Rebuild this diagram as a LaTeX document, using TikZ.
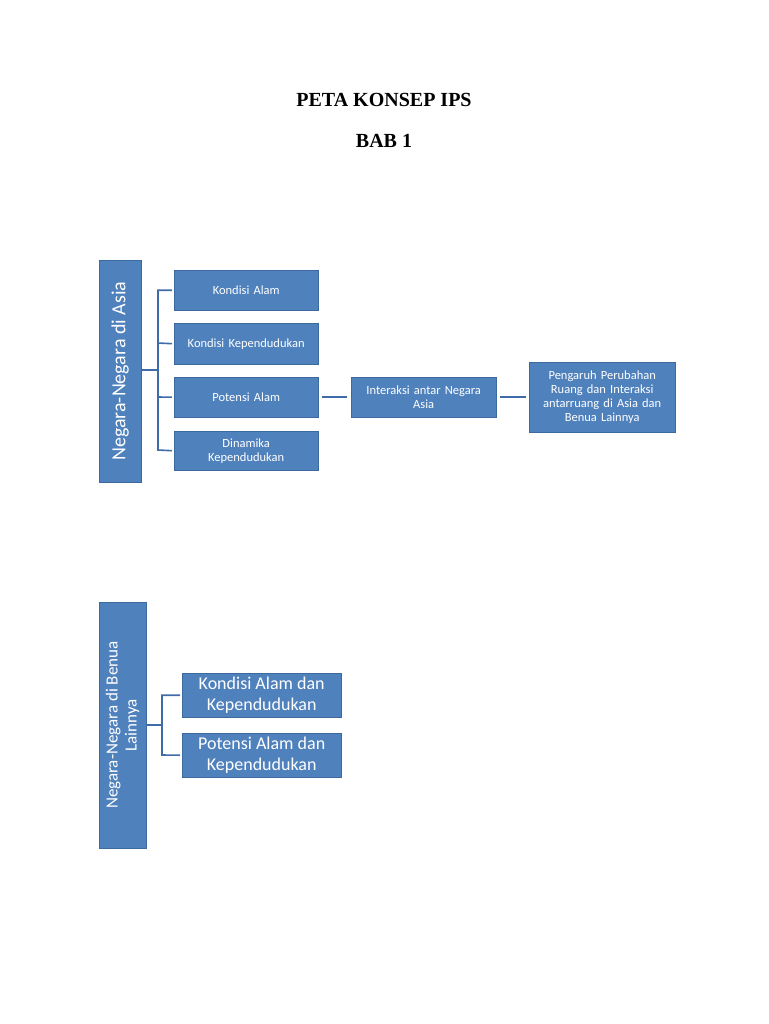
\documentclass[tikz,border=0pt]{standalone}
\usepackage{fontspec}
\setmainfont{Liberation Serif}
\newfontfamily\calfnt{Carlito}
\definecolor{boxfill}{HTML}{4F81BD}
\definecolor{boxline}{HTML}{3C6A9E}
\definecolor{conn}{HTML}{3F6CA8}
\begin{document}
\begin{tikzpicture}[x=1pt,y=-1pt,
  bx/.style={draw=boxline,fill=boxfill,text=white,align=center,inner sep=1pt,font=\calfnt},
  ln/.style={draw=conn,line width=1.6pt}]
\useasboundingbox (0,0) rectangle (768,1024);
\node[font=\bfseries\fontsize{20}{24}\selectfont] (t1) at (384,100) {PETA KONSEP IPS};
\node[font=\bfseries\fontsize{20}{24}\selectfont] (t2) at (384,141) {BAB 1};
% section 1
\node[bx,minimum width=42pt,minimum height=222pt,anchor=north west] (asia) at (99,260) {};
\node[text=white,font=\calfnt\fontsize{20}{24}\selectfont,rotate=90] (asiat) at (asia.center) {Negara-Negara di Asia};
\tikzset{s1/.style={bx,minimum width=144pt,text width=142pt,font=\calfnt\fontsize{12.5}{14}\selectfont,anchor=north west}}
\node[s1,minimum height=40pt] (a1) at (174,270) {Kondisi Alam};
\node[s1,minimum height=41pt] (a2) at (174,323) {Kondisi Kependudukan};
\node[s1,minimum height=40pt] (a3) at (174,377) {Potensi Alam};
\node[s1,minimum height=39pt] (a4) at (174,431) {Dinamika\\Kependudukan};
\node[s1,minimum height=40pt,minimum width=145pt] (a5) at (351,377) {Interaksi antar Negara\\Asia};
\node[s1,minimum height=70pt,minimum width=146pt] (a6) at (529,362) {Pengaruh Perubahan\\Ruang dan Interaksi\\antarruang di Asia dan\\Benua Lainnya};
\coordinate (b1) at (158,370);
\draw[ln] (asia.east |- b1) -- (b1);
\draw[ln] ([xshift=-2pt]a1.west) -| (158,450) -- ([xshift=-2pt]a4.west);
\draw[ln] (158,343) -- ([xshift=-2pt]a2.west);
\draw[ln] (158,397) -- ([xshift=-2pt]a3.west);
\draw[ln] ([xshift=4pt]a3.east) -- ([xshift=-4pt]a5.west);
\draw[ln] ([xshift=4pt]a5.east) -- ([xshift=-3pt]a6.west);
% section 2
\node[bx,minimum width=47pt,minimum height=246pt,anchor=north west] (benua) at (99,602) {};
\node[text=white,align=center,font=\calfnt\fontsize{17}{19}\selectfont,rotate=90] (benuat) at (benua.center) {Negara-Negara di Benua\\Lainnya};
\tikzset{s2/.style={bx,minimum width=159pt,minimum height=44pt,font=\calfnt\fontsize{18}{21}\selectfont,anchor=north west}}
\node[s2] (c1) at (182,673) {Kondisi Alam dan\\Kependudukan};
\node[s2] (c2) at (182,733) {Potensi Alam dan\\Kependudukan};
\draw[ln] (benua.east |- 0,725) -- (162,725);
\draw[ln] ([xshift=-2pt]c1.west) -| (162,755) -- ([xshift=-2pt]c2.west);
\end{tikzpicture}
\end{document}
